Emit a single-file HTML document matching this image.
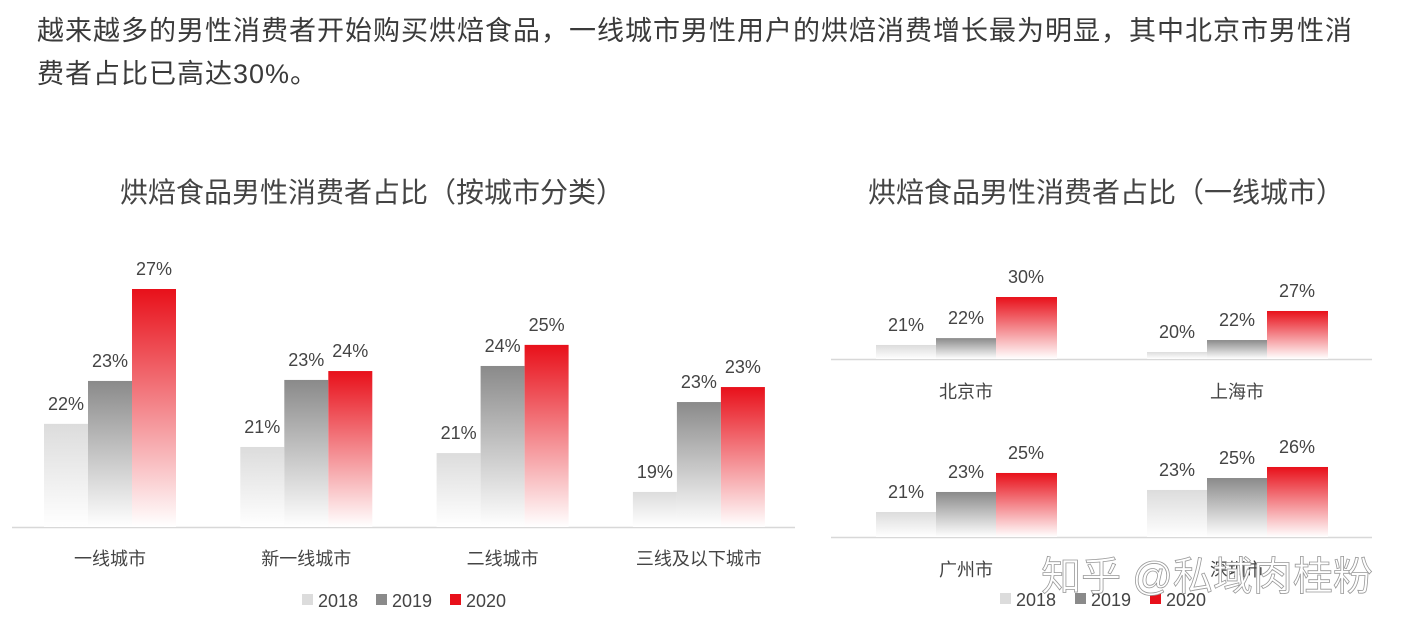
<!DOCTYPE html>
<html><head><meta charset="utf-8">
<style>
body{margin:0;width:1416px;height:637px;background:#fff;overflow:hidden;font-family:"Liberation Sans","Noto Sans CJK SC",sans-serif;color:#444}
.intro{position:absolute;left:37px;top:10px;width:1400px;font-size:27px;line-height:43px;color:#3a3a3a;white-space:nowrap;letter-spacing:1px}
svg{position:absolute;left:0;top:0}
</style></head><body>
<div class="intro">越来越多的男性消费者开始购买烘焙食品，一线城市男性用户的烘焙消费增长最为明显，其中北京市男性消<br>费者占比已高达30%。</div>
<svg id="c" width="1416" height="637">
<defs>
<linearGradient id="g0" x1="0" y1="0" x2="0" y2="1"><stop offset="0" stop-color="#dcdcdc"/><stop offset="1" stop-color="#fff"/></linearGradient>
<linearGradient id="g1" x1="0" y1="0" x2="0" y2="1"><stop offset="0" stop-color="#8a8a8a"/><stop offset="1" stop-color="#fff"/></linearGradient>
<linearGradient id="g2" x1="0" y1="0" x2="0" y2="1"><stop offset="0" stop-color="#e8101a"/><stop offset="1" stop-color="#fff"/></linearGradient>
</defs>
</svg>
<script>
const leftCats=["一线城市","新一线城市","二线城市","三线及以下城市"];
const leftV2018=[21.66,20.75,20.51,18.98];
const leftV2019=[23.35,23.39,23.94,22.52];
const leftV2020=[26.97,23.74,24.77,23.11];
const leftL2018=["22%","21%","21%","19%"];
const leftL2019=["23%","23%","24%","23%"];
const leftL2020=["27%","24%","25%","23%"];
const rightCats=["北京市","上海市","广州市","深圳市"];
const rightV2018=[21.25,19.97,21.03,23.35];
const rightV2019=[22.5,22.15,23.14,24.61];
const rightV2020=[29.97,27.43,25.14,25.77];
const rightL2018=["21%","20%","21%","23%"];
const rightL2019=["22%","22%","23%","25%"];
const rightL2020=["30%","27%","25%","26%"];
const years=["2018","2019","2020"];
const svg=document.getElementById('c');const NS="http://www.w3.org/2000/svg";
function mk(t,a,txt){const e=document.createElementNS(NS,t);for(const k in a)e.setAttribute(k,a[k]);if(txt!==undefined)e.textContent=txt;svg.appendChild(e);return e;}
function text(x,y,s,size,name,anchor){const e=mk('text',{x:x,y:y,'font-size':size,fill:'#444','text-anchor':anchor||'middle','font-family':'"Liberation Sans","Noto Sans CJK SC",sans-serif'},s);

return e;}
text(372,202,"烘焙食品男性消费者占比（按城市分类）",28,'left-chart-title');
text(1106,202,"烘焙食品男性消费者占比（一线城市）",28,'right-chart-title');
const lBase=527,lScale=25.4,lMin=17.6;
const ly=v=>lBase-(v-lMin)*lScale;
const series=[leftV2018,leftV2019,leftV2020],labs=[leftL2018,leftL2019,leftL2020];
mk('line',{x1:12,y1:527.5,x2:795,y2:527.5,stroke:'#d8d8d8','stroke-width':1.5});
leftCats.forEach((c,i)=>{
  const gx=44+i*196.3;
  for(let s=0;s<3;s++){
    const x=gx+s*44,y=ly(series[s][i]);
    const r=mk('rect',{x:x,y:y,width:44,height:lBase-y,fill:'url(#g'+s+')'});
    
    
    text(x+22,y-14,labs[s][i],18,'value-label');
  }
  text(gx+66,565,c,18,'x-label-'+c);
});
const legCols=['#dcdcdc','#8a8a8a','#e8101a'];
years.forEach((yv,k)=>{
  const r=mk('rect',{x:302+k*74,y:594,width:11,height:11,fill:legCols[k]});
  
  
  text(318+k*74,607,yv,18,'legend-entry-'+yv,'start');
});
const rs=[rightV2018,rightV2019,rightV2020],rl=[rightL2018,rightL2019,rightL2020];
const rows=[{base:359,scale:5.5,min:18.7},{base:537,scale:9.5,min:18.4}];
rows.forEach((rw,ri)=>{
  mk('line',{x1:831,y1:rw.base+0.5,x2:1372,y2:rw.base+0.5,stroke:'#d8d8d8','stroke-width':1.5});
  for(let cj=0;cj<2;cj++){
    const i=ri*2+cj,gx=876+cj*271;
    for(let s=0;s<3;s++){
      const x=gx+s*60,y=rw.base-(rs[s][i]-rw.min)*rw.scale;
      const r=mk('rect',{x:x,y:y,width:61,height:rw.base-y,fill:'url(#g'+s+')'});
      
      
      text(x+30,y-14,rl[s][i],18,'value-label');
    }
    text(gx+90,rw.base+39,rightCats[i],18,'x-label-'+rightCats[i]);
  }
});
years.forEach((yv,k)=>{
  const r=mk('rect',{x:1000+k*75,y:593,width:11,height:11,fill:legCols[k]});
  
  
  text(1016+k*75,606,yv,18,'legend-entry-right-'+yv,'start');
});
const w=text(1207,590,"知乎 @私域肉桂粉",40,'watermark');
w.setAttribute('fill','#fff');w.setAttribute('stroke','#999');w.setAttribute('stroke-width','0.8');
</script>
</body></html>
